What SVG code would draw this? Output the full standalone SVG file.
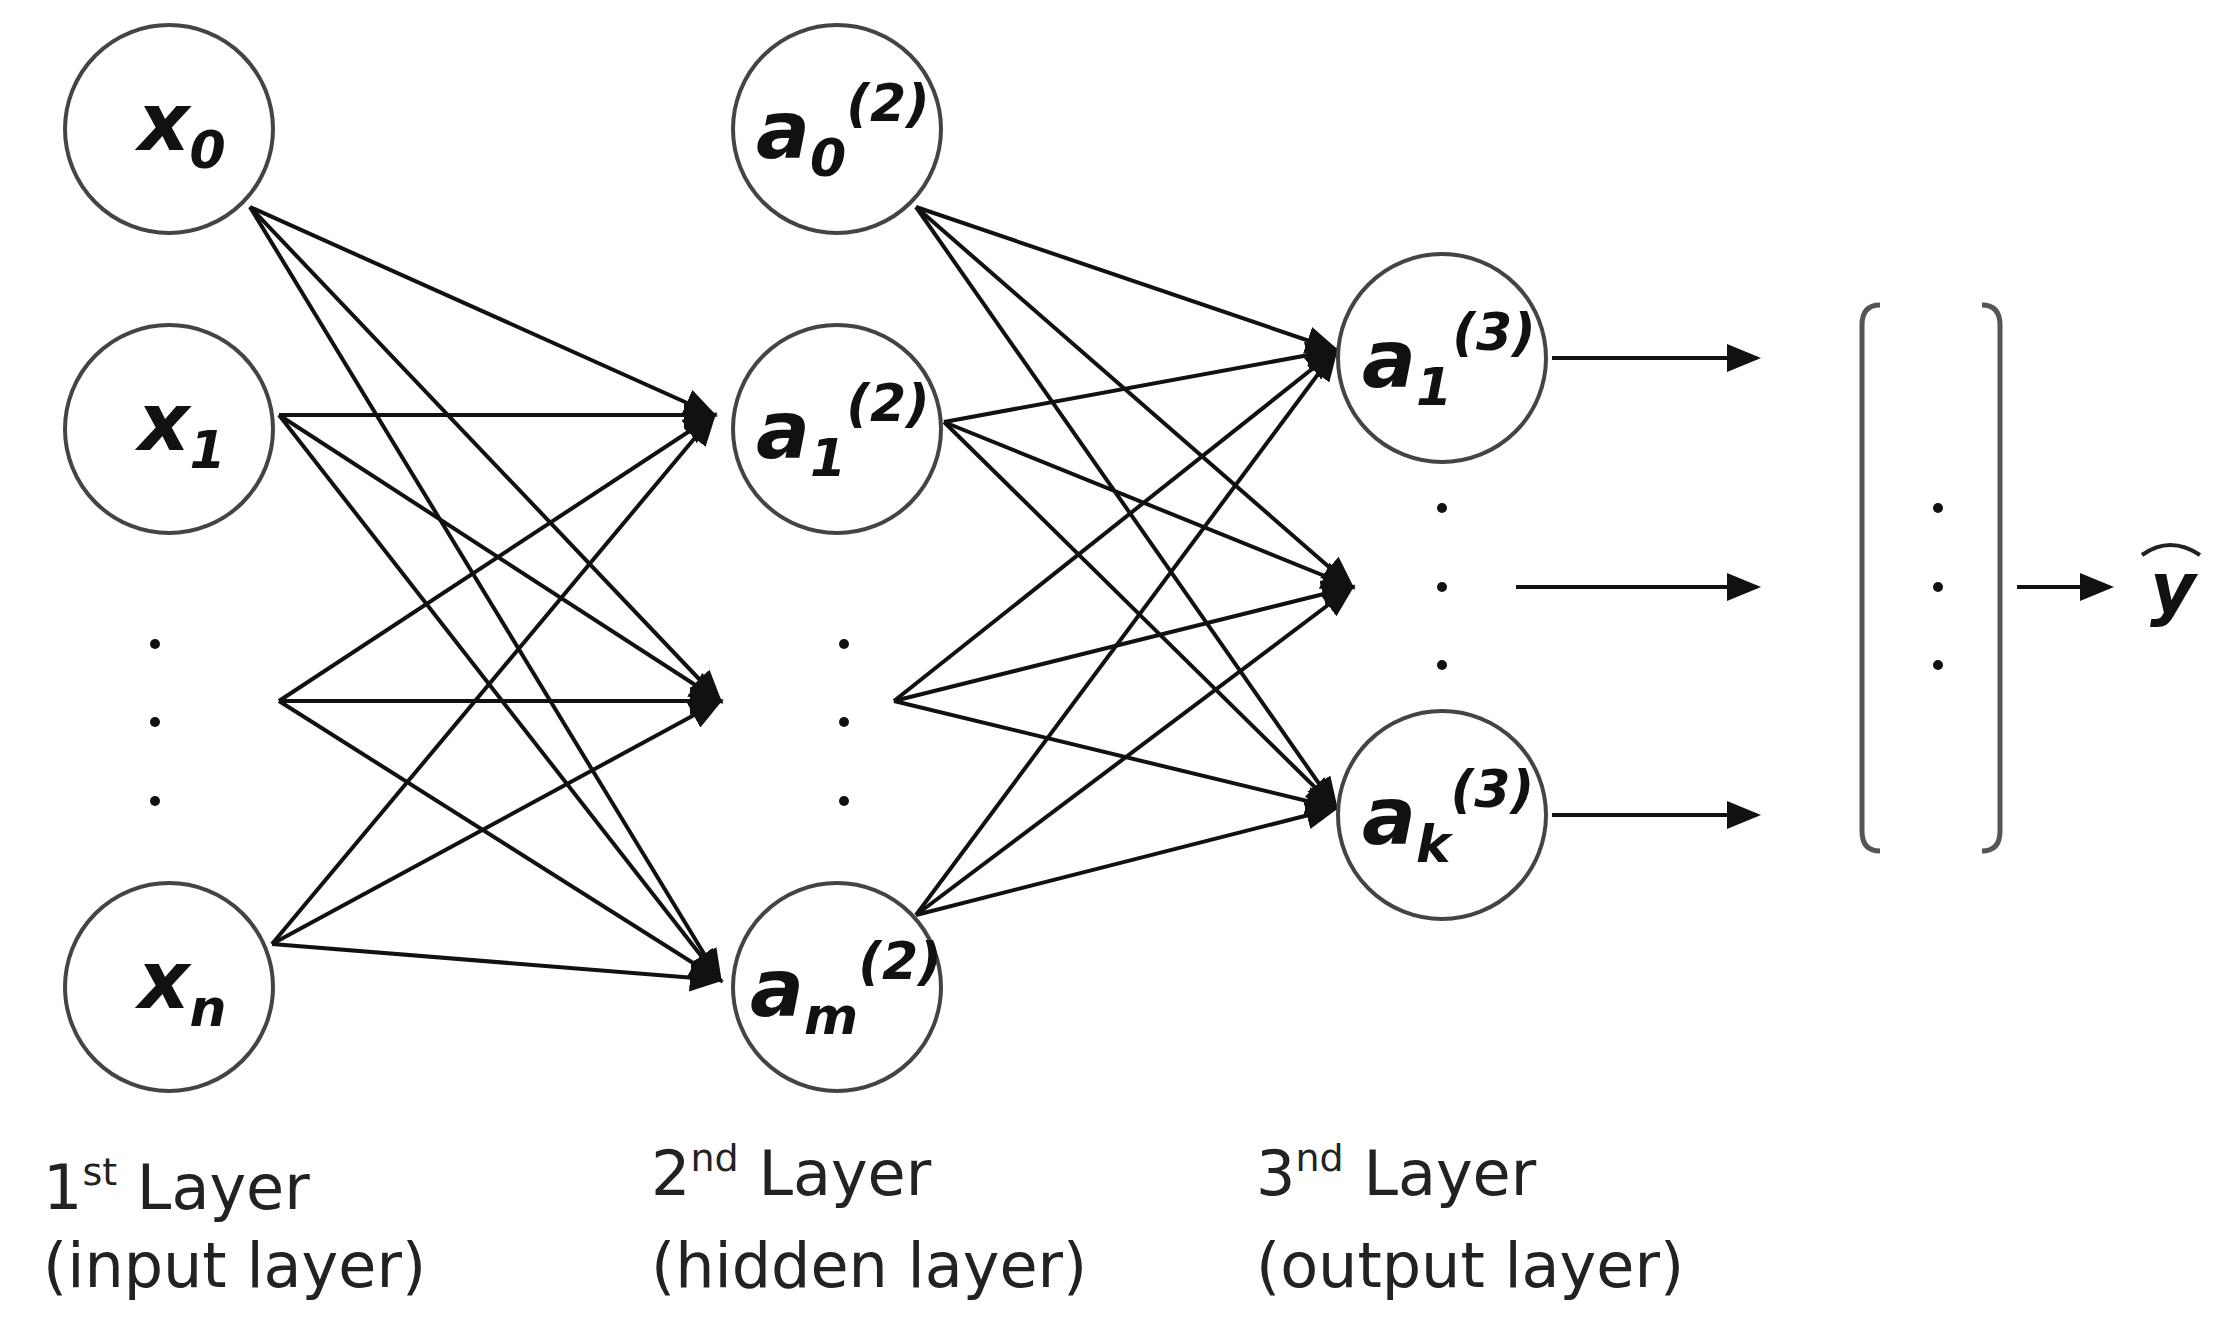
<svg xmlns="http://www.w3.org/2000/svg" width="2231" height="1338" viewBox="0 0 2231 1338">
<style>
.n{fill:#fff;stroke:#444;stroke-width:4}
.c line{stroke:#111;stroke-width:4}
.v{font-family:"DejaVu Sans",sans-serif;font-style:italic;font-weight:bold;fill:#111}
.l{font-family:"DejaVu Sans",sans-serif;font-size:62px;fill:#222}
.d{fill:#111}
</style>
<defs>
<marker id="ah" markerUnits="userSpaceOnUse" markerWidth="34" markerHeight="28" refX="30" refY="14" orient="auto"><path d="M0,0 L34,14 L0,28 Z" fill="#111"/></marker>
</defs>
<g class="c" id="connectors">
<g marker-end="url(#ah)">
<line x1="250" y1="207" x2="714" y2="415"/><line x1="250" y1="207" x2="720" y2="701"/><line x1="250" y1="207" x2="720" y2="980"/>
<line x1="279" y1="415" x2="714" y2="415"/><line x1="279" y1="415" x2="720" y2="701"/><line x1="279" y1="415" x2="720" y2="980"/>
<line x1="279" y1="701" x2="714" y2="415"/><line x1="279" y1="701" x2="720" y2="701"/><line x1="279" y1="701" x2="720" y2="980"/>
<line x1="272" y1="944" x2="714" y2="415"/><line x1="272" y1="944" x2="720" y2="701"/><line x1="272" y1="944" x2="720" y2="980"/>
<line x1="916" y1="207" x2="1336" y2="350"/><line x1="916" y1="207" x2="1352" y2="587"/><line x1="916" y1="207" x2="1336" y2="808"/>
<line x1="944" y1="422" x2="1336" y2="350"/><line x1="944" y1="422" x2="1352" y2="587"/><line x1="944" y1="422" x2="1336" y2="808"/>
<line x1="894" y1="701" x2="1336" y2="350"/><line x1="894" y1="701" x2="1352" y2="587"/><line x1="894" y1="701" x2="1336" y2="808"/>
<line x1="916" y1="915" x2="1336" y2="350"/><line x1="916" y1="915" x2="1352" y2="587"/><line x1="916" y1="915" x2="1336" y2="808"/>
<line x1="1552" y1="358" x2="1757" y2="358"/><line x1="1516" y1="587" x2="1757" y2="587"/><line x1="1552" y1="815" x2="1757" y2="815"/>
<line x1="2017" y1="587" x2="2110" y2="587"/>
</g>
</g>
<g id="x0"><circle class="n" cx="169" cy="129" r="104"/><text class="v" x="138" y="150" font-size="80">x<tspan font-size="52" dy="18">0</tspan></text></g>
<g id="x1"><circle class="n" cx="169" cy="429" r="104"/><text class="v" x="138" y="450" font-size="80">x<tspan font-size="52" dy="18">1</tspan></text></g>
<g id="xn"><circle class="n" cx="169" cy="987" r="104"/><text class="v" x="138" y="1008" font-size="80">x<tspan font-size="52" dy="18">n</tspan></text></g>
<g id="a0"><circle class="n" cx="837" cy="129" r="104"/><text class="v" x="756" y="158" font-size="80">a<tspan font-size="52" dy="18">0</tspan><tspan font-size="52" dy="-55">(2)</tspan></text></g>
<g id="a1"><circle class="n" cx="837" cy="429" r="104"/><text class="v" x="756" y="458" font-size="80">a<tspan font-size="52" dy="18">1</tspan><tspan font-size="52" dy="-55">(2)</tspan></text></g>
<g id="am"><circle class="n" cx="837" cy="987" r="104"/><text class="v" x="750" y="1016" font-size="80">a<tspan font-size="52" dy="18">m</tspan><tspan font-size="52" dy="-55">(2)</tspan></text></g>
<g id="o1"><circle class="n" cx="1442" cy="358" r="104"/><text class="v" x="1362" y="387" font-size="80">a<tspan font-size="52" dy="18">1</tspan><tspan font-size="52" dy="-55">(3)</tspan></text></g>
<g id="ok"><circle class="n" cx="1442" cy="815" r="104"/><text class="v" x="1362" y="844" font-size="80">a<tspan font-size="52" dy="18">k</tspan><tspan font-size="52" dy="-55">(3)</tspan></text></g>
<g id="dots">
<circle class="d" cx="155" cy="644" r="5"/><circle class="d" cx="155" cy="722" r="5"/><circle class="d" cx="155" cy="801" r="5"/>
<circle class="d" cx="844" cy="644" r="5"/><circle class="d" cx="844" cy="722" r="5"/><circle class="d" cx="844" cy="801" r="5"/>
<circle class="d" cx="1442" cy="508" r="5"/><circle class="d" cx="1442" cy="587" r="5"/><circle class="d" cx="1442" cy="665" r="5"/>
<circle class="d" cx="1938" cy="508" r="5"/><circle class="d" cx="1938" cy="587" r="5"/><circle class="d" cx="1938" cy="665" r="5"/>
</g>
<g id="vector" fill="none" stroke="#555" stroke-width="5">
<path d="M1880,305 Q1862,305 1862,325 L1862,831 Q1862,851 1880,851"/>
<path d="M1982,305 Q2000,305 2000,325 L2000,831 Q2000,851 1982,851"/>
</g>
<g id="yhat"><text class="v" x="2150" y="612" font-size="70">y</text><path d="M2142,555 Q2170,535 2200,555" fill="none" stroke="#222" stroke-width="4"/></g>
<g id="labels">
<text class="l" x="43" y="1209">1<tspan font-size="38" dy="-24">st</tspan><tspan dy="24"> Layer</tspan></text>
<text class="l" x="43" y="1287">(input layer)</text>
<text class="l" x="651" y="1195">2<tspan font-size="38" dy="-24">nd</tspan><tspan dy="24"> Layer</tspan></text>
<text class="l" x="651" y="1287">(hidden layer)</text>
<text class="l" x="1256" y="1195">3<tspan font-size="38" dy="-24">nd</tspan><tspan dy="24"> Layer</tspan></text>
<text class="l" x="1256" y="1287">(output layer)</text>
</g>
</svg>
